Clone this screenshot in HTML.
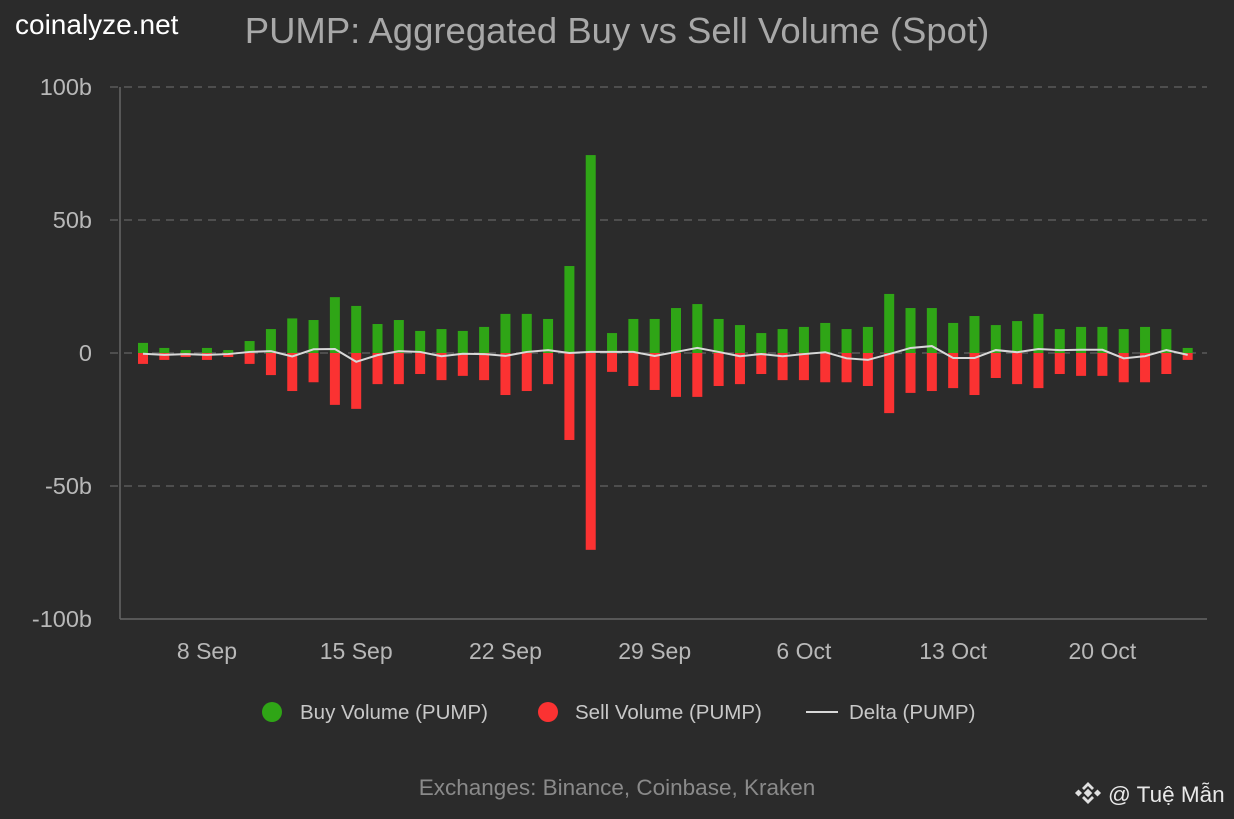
<!DOCTYPE html>
<html><head><meta charset="utf-8"><style>
body{margin:0;background:#2b2b2b;width:1234px;height:819px;overflow:hidden;font-family:"Liberation Sans",sans-serif}
svg{display:block}
</style></head><body>
<svg id="c" width="1234" height="819">
<text x="15" y="34" fill="#ffffff" font-size="28">coinalyze.net</text>
<text x="617" y="43" fill="#a8a8a8" font-size="36.5" text-anchor="middle">PUMP: Aggregated Buy vs Sell Volume (Spot)</text>
<g id="grid"></g>
<g id="bars"></g>
<g id="xaxis"></g>
<g>
<g><circle cx="272" cy="712" r="10" fill="#2fa516"/><text x="300" y="719" fill="#c8c8c8" font-size="20.5">Buy Volume (PUMP)</text></g>
<g><circle cx="548" cy="712" r="10" fill="#fb3232"/><text x="575" y="719" fill="#c8c8c8" font-size="20.5">Sell Volume (PUMP)</text></g>
<g><line x1="806" y1="712" x2="838" y2="712" stroke="#d8d8d8" stroke-width="2"/><text x="849" y="719" fill="#c8c8c8" font-size="20.5">Delta (PUMP)</text></g>
</g>
<text x="617" y="795" fill="#8a8a8a" font-size="22.5" text-anchor="middle">Exchanges: Binance, Coinbase, Kraken</text>
<g>
<g transform="translate(1088,793)" fill="#e0e0e0"><rect x="-3" y="-3" width="6" height="6" transform="rotate(45)"/><rect x="-12" y="-2.5" width="5" height="5" transform="rotate(45 -9.5 0)"/><rect x="7" y="-2.5" width="5" height="5" transform="rotate(45 9.5 0)"/><path d="M-6 -5 L0 -11 L6 -5 L4 -3 L0 -7 L-4 -3Z"/><path d="M-6 5 L0 11 L6 5 L4 3 L0 7 L-4 3Z"/></g>
<text x="1108" y="802" fill="#e8e8e8" font-size="22.5">@ Tuệ Mẫn</text></g>
</svg>
<script>
const buy=[3.8,1.9,1.1,1.9,1.1,4.5,9,13,12.4,21,17.7,10.9,12.4,8.3,9,8.3,9.8,14.7,14.7,12.8,32.7,74.4,7.5,12.8,12.8,16.9,18.4,12.8,10.5,7.5,9,9.8,11.3,9,9.8,22.2,16.9,16.9,11.3,13.9,10.5,12,14.7,9,9.8,9.8,9,9.8,9,1.9];
const sell=[-4.1,-2.6,-1.5,-2.6,-1.5,-4.1,-8.3,-14.3,-11,-19.5,-21,-11.7,-11.7,-7.9,-10.2,-8.6,-10.2,-15.8,-14.3,-11.7,-32.7,-74,-7.1,-12.4,-13.9,-16.5,-16.5,-12.4,-11.7,-7.9,-10.2,-10.2,-11,-11,-12.4,-22.6,-15,-14.3,-13.2,-15.8,-9.4,-11.7,-13.2,-7.9,-8.6,-8.6,-11,-11,-7.9,-2.6];
const yTicks=[100,50,0,-50,-100];
const yTickLabels=["100b","50b","0","-50b","-100b"];
const xTickIdx=[3,10,17,24,31,38,45];
const xTickLabels=["8 Sep","15 Sep","22 Sep","29 Sep","6 Oct","13 Oct","20 Oct"];
const NS="http://www.w3.org/2000/svg";
const y=v=>353-v*2.66;
const x=i=>143+i*21.32;
function mk(t,a,p){const e=document.createElementNS(NS,t);for(const k in a)e.setAttribute(k,a[k]);p.appendChild(e);return e;}
const g=document.getElementById('grid'),b=document.getElementById('bars'),xa=document.getElementById('xaxis');
yTicks.forEach((v,i)=>{
 if(v!==-100){const l=mk('line',{x1:110,x2:1207,y1:y(v),y2:y(v),stroke:'#5a5a5a','stroke-dasharray':'8,6','stroke-width':1.5},g);
 
 }
 const t=mk('text',{x:92,y:y(v)+8,fill:'#b8b8b8','font-size':23.5,'text-anchor':'end'},g);t.textContent=yTickLabels[i];
 
 
});
mk('line',{x1:120,x2:120,y1:y(100),y2:y(-100),stroke:'#666','stroke-width':1.5},g);
mk('line',{x1:120,x2:1207,y1:y(-100),y2:y(-100),stroke:'#666','stroke-width':1.5},g);
buy.forEach((v,i)=>{
 const r=mk('rect',{x:x(i)-5,y:y(v),width:10,height:y(0)-y(v),fill:'#2fa516'},b);
 
 
 const s=sell[i];
 const r2=mk('rect',{x:x(i)-5,y:y(0),width:10,height:y(s)-y(0),fill:'#fb3232'},b);
 
 
});
const pts=buy.map((v,i)=>x(i)+','+y(v+sell[i])).join(' ');
const pl=mk('polyline',{points:pts,fill:'none',stroke:'#d8d8d8','stroke-width':2},b);


xTickIdx.forEach((d,i)=>{
 const t=mk('text',{x:x(d),y:659,fill:'#b8b8b8','font-size':23,'text-anchor':'middle'},xa);t.textContent=xTickLabels[i];
 
 
});
</script>
</body></html>
